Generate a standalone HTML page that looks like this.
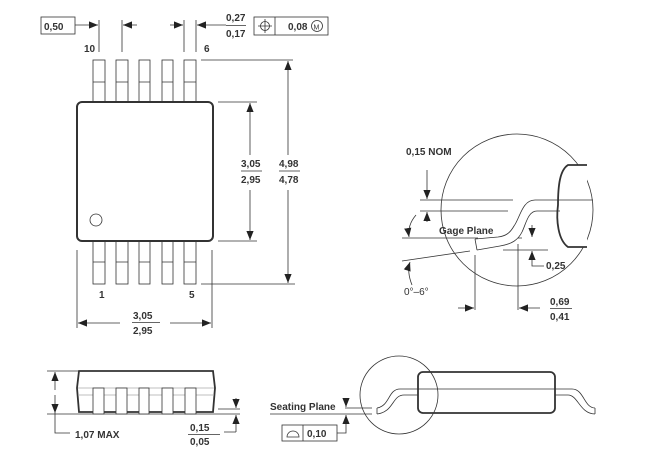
<!DOCTYPE html>
<html><head><meta charset="utf-8"><style>
html,body{margin:0;padding:0;background:#fff}
svg{display:block}
text{font-family:"Liberation Sans",sans-serif;font-weight:bold;font-size:10px;fill:#333}
</style></head><body>
<svg width="650" height="461" viewBox="0 0 650 461" xmlns="http://www.w3.org/2000/svg">
<defs>
<marker id="a" viewBox="0 0 10 10" refX="10" refY="5" markerWidth="9" markerHeight="9" orient="auto-start-reverse" markerUnits="userSpaceOnUse"><path d="M0,1 L10,5 L0,9z" fill="#222"/></marker>
</defs>
<g stroke="#333" stroke-width="0.8" fill="none">
<g fill="#fff">
<rect x="93" y="60" width="12" height="42"/><rect x="116" y="60" width="12" height="42"/><rect x="139" y="60" width="11" height="42"/><rect x="162" y="60" width="11" height="42"/><rect x="184" y="60" width="12" height="42"/>
<rect x="93" y="241" width="12" height="43"/><rect x="116" y="241" width="12" height="43"/><rect x="139" y="241" width="11" height="43"/><rect x="162" y="241" width="11" height="43"/><rect x="184" y="241" width="12" height="43"/>
</g>
<path d="M93 82h12M116 82h12M139 82h11M162 82h11M184 82h12M93 262h12M116 262h12M139 262h11M162 262h11M184 262h12"/>
<rect x="77" y="102" width="136" height="139" rx="5" stroke-width="2" fill="#fff"/>
<circle cx="96" cy="220" r="6"/>
<rect x="41" y="17" width="34" height="17"/>
<path d="M75 25H98" marker-end="url(#a)"/>
<path d="M99 20V52M122 20V52M184 20V52M196 20V52"/>
<path d="M137 25H123" marker-end="url(#a)"/>
<path d="M170 25H183" marker-end="url(#a)"/>
<path d="M226 25H197" marker-end="url(#a)"/>
<path d="M226 25.5H246"/>
<rect x="254" y="17" width="74" height="18"/><path d="M275 17V35"/>
<circle cx="265" cy="26" r="4.5"/><path d="M258 26H272M265 19V33"/>
<circle cx="317" cy="26" r="5.5"/>
<path d="M201 60H293M218 102H257M218 241H257M201 284H295"/>
<path d="M288 155V61" marker-end="url(#a)"/><path d="M288 190V283" marker-end="url(#a)"/>
<path d="M250 155V103" marker-end="url(#a)"/><path d="M250 190V240" marker-end="url(#a)"/>
<path d="M279 171H300M241 171H262"/>
<path d="M77 250V328M212 250V328"/>
<path d="M120 323H78" marker-end="url(#a)"/><path d="M170 323H211" marker-end="url(#a)"/>
<path d="M132 322.5H160"/>
<path d="M47 371H78M47 414H240"/>
<path d="M79 371H213L215 388L213 412H79L77 388Z" stroke-width="1.8" fill="#fff"/>
<path d="M78 388H214M78 395H214" stroke="#aaa"/>
<g fill="#fff"><rect x="93" y="388" width="11" height="26"/><rect x="116" y="388" width="11" height="26"/><rect x="139" y="388" width="10" height="26"/><rect x="162" y="388" width="11" height="26"/><rect x="185" y="388" width="11" height="26"/></g>
<path d="M55 390V372" marker-end="url(#a)"/><path d="M55 395V413" marker-end="url(#a)"/>
<path d="M55 413V433H70"/>
<path d="M218 409H240"/>
<path d="M236 398V408" marker-end="url(#a)"/><path d="M236 432V415" marker-end="url(#a)"/>
<path d="M236 432H224M188 434.5H220"/>
<path d="M377 408C390 406 388 389 400 389H418M377 414C394 412 392 395 404 395H418" />
<path d="M377 408V414"/>
<path d="M555 389H572C584 389 584 408 595 408M555 395H568C578 395 580 414 595 414M595 408V414"/>
<rect x="418" y="372" width="137" height="41" rx="5" stroke-width="1.8"/>
<path d="M418 389H555"/>
<circle cx="399" cy="395" r="39"/>
<path d="M270 414H372M345 408H372"/>
<path d="M346 398V407" marker-end="url(#a)"/><path d="M346 428V415" marker-end="url(#a)"/>
<path d="M337 433H346V428"/>
<rect x="282" y="425" width="55" height="16"/><path d="M303 425V441"/>
<path d="M287 437A6 6 0 0 1 299 437Z"/>
<!-- detail circle -->
<circle cx="517" cy="210" r="76"/>
<path d="M587 165H568C560 170 558 185 558 205C556 220 558 240 568 247H587" stroke-width="1.8" fill="#fff"/>
<path d="M560 200H593"/>
<path d="M560 200H535C522 200 520 218 514 226C510 233 506 236 498 237L475 239M560 211H537C528 211 526 224 522 232C518 240 512 244 500 246L477 250M475 239L477 250"/>
<path d="M420 200H513M420 211H508"/>
<path d="M402 238H478M402 261L470 251M475 255V310M518 244V310M503 250H548M518 238H522"/>
<path d="M427 170V199" marker-end="url(#a)"/><path d="M427 222V212" marker-end="url(#a)"/>
<path d="M416 215C410 222 408 230 409 237" marker-end="url(#a)"/>
<path d="M412 285C408 275 408 268 410 262" marker-end="url(#a)"/>
<path d="M532 225V237" marker-end="url(#a)"/><path d="M532 262V251" marker-end="url(#a)"/>
<path d="M532 262V266H544"/>
<path d="M458 308H474" marker-end="url(#a)"/><path d="M540 308H519" marker-end="url(#a)"/>
<path d="M550 308.5H572"/>
</g>
<g>
<text x="44" y="30">0,50</text>
<text x="84" y="52">10</text><text x="204" y="52">6</text>
<text x="226" y="21">0,27</text><text x="226" y="37">0,17</text>
<text x="288" y="30">0,08</text>
<text x="313.5" y="29.5" style="font-size:7px;font-weight:normal">M</text>
<text x="279" y="167">4,98</text><text x="279" y="183">4,78</text>
<text x="241" y="167">3,05</text><text x="241" y="183">2,95</text>
<text x="99" y="298">1</text><text x="189" y="298">5</text>
<text x="133" y="319">3,05</text><text x="133" y="334">2,95</text>
<text x="75" y="438">1,07 MAX</text>
<text x="190" y="431">0,15</text><text x="190" y="445">0,05</text>
<text x="270" y="410">Seating Plane</text>
<text x="307" y="437">0,10</text>
<text x="406" y="155">0,15 NOM</text>
<text x="439" y="234">Gage Plane</text>
<text x="546" y="269">0,25</text>
<text x="404" y="295" style="font-weight:normal">0°–6°</text>
<text x="550" y="305">0,69</text><text x="550" y="320">0,41</text>
</g>
</svg>
</body></html>
